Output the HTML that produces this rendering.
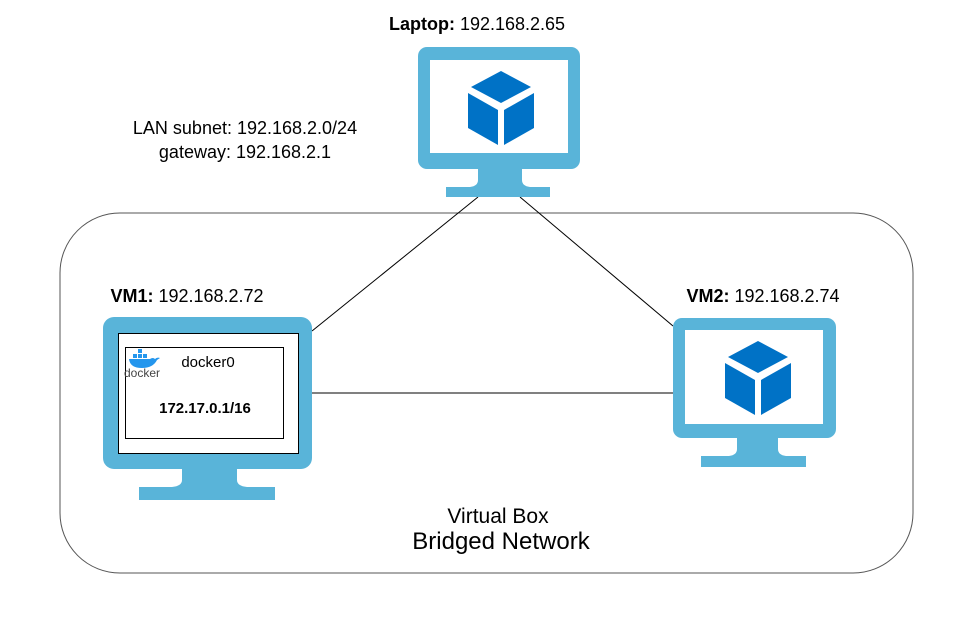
<!DOCTYPE html>
<html><head><style>body{margin:0;background:#fff}svg{display:block}</style></head><body>
<svg width="976" height="619" viewBox="0 0 976 619" xmlns="http://www.w3.org/2000/svg" font-family="Liberation Sans, Arial, sans-serif">
<defs>
<g id="cube" fill="#0072C6">
<polygon points="0,0 30,16 0,32 -30,16"/>
<polygon points="-33,22 -3,39 -3,74 -33,57"/>
<polygon points="33,22 3,39 3,74 33,57"/>
</g>
</defs>
<rect x="60" y="213" width="853" height="360" rx="60" fill="none" stroke="#555" stroke-width="1"/>
<line x1="478" y1="197" x2="312" y2="331" stroke="#000"/>
<line x1="520" y1="197" x2="673" y2="326" stroke="#000"/>
<line x1="299" y1="393" x2="673" y2="393" stroke="#000"/>
<!-- Laptop -->
<rect x="418" y="47" width="162" height="122" rx="9" fill="#59B4D9"/>
<rect x="430" y="60" width="138" height="93" fill="#fff"/>
<path d="M478,168 h44 v12 q0,6 8,7 h20 v10 h-104 v-10 h24 q8,-1 8,-7z" fill="#59B4D9"/>
<use href="#cube" x="501" y="71"/>
<!-- VM2 -->
<rect x="673" y="318" width="163" height="120" rx="9" fill="#59B4D9"/>
<rect x="685" y="330" width="138" height="94" fill="#fff"/>
<path d="M737,437 h41 v12 q0,6 8,7 h20 v11 h-105 v-11 h28 q8,-1 8,-7z" fill="#59B4D9"/>
<use href="#cube" x="758" y="341"/>
<!-- VM1 -->
<rect x="103" y="317" width="209" height="152" rx="11" fill="#59B4D9"/>
<rect x="118.5" y="333.5" width="180" height="120" fill="#fff" stroke="#000"/>
<rect x="125.5" y="347.5" width="158" height="91" fill="#fff" stroke="#000"/>
<path d="M182,468 h55 v12 q0,6 10,7 h28 v13 h-136 v-13 h33 q10,-1 10,-7z" fill="#59B4D9"/>
<g>
<path d="M129,359 q1,9 13,9 q11,0 15,-8 l3,-2 q-3,-1 -5,1 q-2,-2 -5,0z" fill="#2496ED"/>
<rect x="133" y="354" width="4" height="4" fill="#2496ED"/><rect x="138" y="354" width="4" height="4" fill="#2496ED"/><rect x="143" y="354" width="4" height="4" fill="#2496ED"/><rect x="138" y="349" width="4" height="4" fill="#2496ED"/>
<text x="124" y="377" font-size="12" fill="#444">docker</text>
</g>
<text x="208" y="367" font-size="15" text-anchor="middle">docker0</text>
<text x="205" y="413" font-size="15" font-weight="bold" text-anchor="middle">172.17.0.1/16</text>
<!-- labels -->
<text x="477" y="30" font-size="18" text-anchor="middle"><tspan font-weight="bold">Laptop:</tspan> 192.168.2.65</text>
<text x="245" y="134" font-size="18" text-anchor="middle">LAN subnet: 192.168.2.0/24</text>
<text x="245" y="158" font-size="18" text-anchor="middle">gateway: 192.168.2.1</text>
<text x="187" y="302" font-size="18" text-anchor="middle"><tspan font-weight="bold">VM1:</tspan> 192.168.2.72</text>
<text x="763" y="302" font-size="18" text-anchor="middle"><tspan font-weight="bold">VM2:</tspan> 192.168.2.74</text>
<text x="498" y="523" font-size="21" text-anchor="middle">Virtual Box</text>
<text x="501" y="549" font-size="24" text-anchor="middle">Bridged Network</text>
</svg>
</body></html>
